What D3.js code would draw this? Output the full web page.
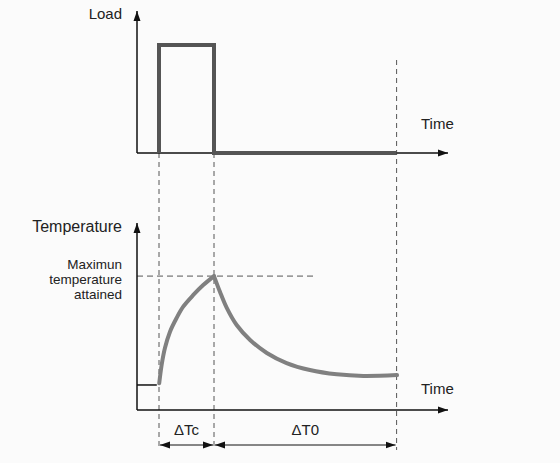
<!DOCTYPE html>
<html>
<head>
<meta charset="utf-8">
<script src="https://cdn.jsdelivr.net/npm/d3@7"></script>
<style>
  body { margin: 0; background: #fbfbfb; }
  text { font-family: "Liberation Sans", Arial, sans-serif; fill: #222; }
</style>
</head>
<body>
<svg width="560" height="463"></svg>
<script>
// time marks (arbitrary units)
const tStart = 1;
const tPeak = 3.5;
const tEnd = 11.8;

// load pulse
const loadTimes = [1, 1, 3.5, 3.5, 11.8];
const loadValues = [0, 1, 1, 0, 0];

// temperature (0-100, relative)
const heatTimes = [1.01, 1.12, 1.27, 1.5, 1.8, 2.1, 2.56, 3.01, 3.5];
const heatValues = [14.8, 25, 34.4, 43.5, 51.1, 57.4, 63.9, 69.4, 74.4];
const coolTimes = [3.5, 3.77, 4.08, 4.53, 5.14, 5.9, 6.8, 7.86, 9.08, 10.29, 11.82];
const coolValues = [74.4, 65.7, 56.7, 47.2, 38.9, 31.7, 26.1, 22.2, 19.8, 18.9, 19.4];
const baseTimes = [0, 0.9];
const baseValues = [13.9, 13.9];

const intervalLabels = ['ΔTc', 'ΔT0'];

const svg = d3.select('svg');

const x = d3.scaleLinear().domain([0, 14]).range([137, 445]);
const yLoad = d3.scaleLinear().domain([0, 1]).range([153, 45]);
const yTemp = d3.scaleLinear().domain([0, 100]).range([410, 230]);

const defs = svg.append('defs');
defs.append('marker')
    .attr('id', 'arr')
    .attr('viewBox', '0 0 10 10')
    .attr('refX', 10).attr('refY', 5)
    .attr('markerWidth', 10).attr('markerHeight', 10)
    .attr('markerUnits', 'userSpaceOnUse')
    .attr('orient', 'auto-start-reverse')
    .append('path')
    .attr('d', 'M0,1.5L10,5L0,8.5Z')
    .attr('fill', '#111');

// dashed guides
const guides = [
    {t: tStart, y1: 153, y2: 450},
    {t: tPeak, y1: 153, y2: 450},
    {t: tEnd, y1: 60, y2: 450}
];
svg.append('g').selectAll('line')
    .data(guides)
    .enter().append('line')
    .attr('x1', d => x(d.t)).attr('x2', d => x(d.t))
    .attr('y1', d => d.y1).attr('y2', d => d.y2)
    .attr('stroke', '#555').attr('stroke-width', 1)
    .attr('stroke-dasharray', '5,4');

// max temperature guide
svg.append('line')
    .attr('x1', x(0)).attr('x2', x(8.1))
    .attr('y1', yTemp(d3.max(heatValues))).attr('y2', yTemp(d3.max(heatValues)))
    .attr('stroke', '#555').attr('stroke-width', 1)
    .attr('stroke-dasharray', '6,4');

// axes
function axes(yBase, yTop) {
    svg.append('line')
        .attr('x1', x(0)).attr('x2', x(0))
        .attr('y1', yBase).attr('y2', yTop)
        .attr('stroke', '#111').attr('stroke-width', 1.5)
        .attr('marker-end', 'url(#arr)');
    svg.append('line')
        .attr('x1', x(0)).attr('x2', 448)
        .attr('y1', yBase).attr('y2', yBase)
        .attr('stroke', '#111').attr('stroke-width', 1.5)
        .attr('marker-end', 'url(#arr)');
}
axes(yLoad(0), 11);
axes(yTemp(0), 223);

// load line
svg.append('path')
    .datum(loadValues)
    .attr('d', d3.line()
        .x((d, i) => x(loadTimes[i]))
        .y(d => yLoad(d)))
    .attr('fill', 'none')
    .attr('stroke', '#555')
    .attr('stroke-width', 4)
    .attr('stroke-linejoin', 'miter');

// temperature curves
const curve = (times) => d3.line()
    .x((d, i) => x(times[i]))
    .y(d => yTemp(d))
    .curve(d3.curveCatmullRom);

svg.append('path')
    .datum(baseValues)
    .attr('d', curve(baseTimes))
    .attr('fill', 'none').attr('stroke', '#111').attr('stroke-width', 1.5);

[[heatTimes, heatValues], [coolTimes, coolValues]].forEach(([t, v]) => {
    svg.append('path')
        .datum(v)
        .attr('d', curve(t))
        .attr('fill', 'none')
        .attr('stroke', '#808080')
        .attr('stroke-width', 4)
        .attr('stroke-linecap', 'round');
});

// interval arrows
const intervals = [[tStart, tPeak], [tPeak, tEnd]];
svg.append('g').selectAll('line')
    .data(intervals)
    .enter().append('line')
    .attr('x1', d => x(d[0]) + 1).attr('x2', d => x(d[1]) - 1)
    .attr('y1', 445).attr('y2', 445)
    .attr('stroke', '#111').attr('stroke-width', 1)
    .attr('marker-start', 'url(#arr)')
    .attr('marker-end', 'url(#arr)');

svg.append('g').selectAll('text')
    .data(intervals)
    .enter().append('text')
    .attr('x', d => (x(d[0]) + x(d[1])) / 2)
    .attr('y', 435)
    .attr('text-anchor', 'middle')
    .attr('font-size', 15)
    .text((d, i) => intervalLabels[i]);

// labels
svg.append('text').attr('x', 122).attr('y', 19)
    .attr('text-anchor', 'end').attr('font-size', 15).text('Load');
svg.append('text').attr('x', 421).attr('y', 129)
    .attr('font-size', 15).text('Time');
svg.append('text').attr('x', 421).attr('y', 394)
    .attr('font-size', 15).text('Time');
svg.append('text').attr('x', 122).attr('y', 232)
    .attr('text-anchor', 'end').attr('font-size', 16).text('Temperature');

['Maximun', 'temperature', 'attained'].forEach((s, i) => {
    svg.append('text')
        .attr('x', 122).attr('y', 269 + i * 15)
        .attr('text-anchor', 'end').attr('font-size', 13.5)
        .text(s);
});
</script>
</body>
</html>
